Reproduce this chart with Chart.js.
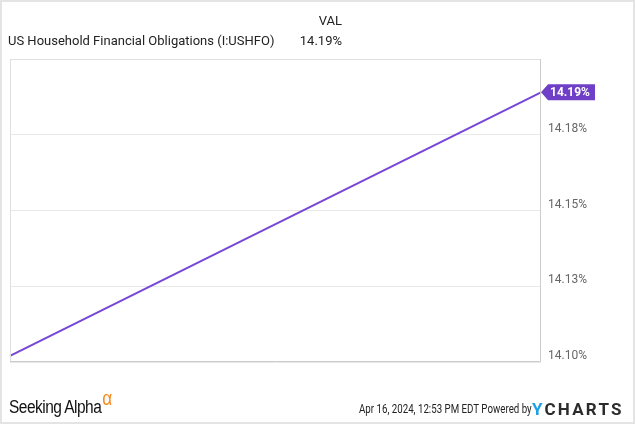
<!DOCTYPE html>
<html>
<head>
<meta charset="utf-8">
<script src="https://cdn.jsdelivr.net/npm/chart.js@4.4.1/dist/chart.umd.min.js"></script>
<style>
  html, body { margin:0; padding:0; background:#fff; }
  #wrap { position:relative; width:635px; height:424px; box-sizing:border-box; border:2px solid #e4e4e4; font-family: Roboto, "Liberation Sans", sans-serif; overflow:hidden; }
  #cv { position:absolute; left:-2px; top:-2px; }
  .t { position:absolute; white-space:nowrap; color:#222; }
</style>
</head>
<body>
<div id="wrap">
  <canvas id="cv" width="635" height="424"></canvas>
  <div class="t" style="left:6px; top:31px; font-size:13px;">US Household Financial Obligations (I:USHFO)</div>
  <div class="t" style="right:291px; top:11px; font-size:13px;">VAL</div>
  <div class="t" style="right:291px; top:31px; font-size:13px;">14.19%</div>
  <div class="t" style="left:7px; top:393px; font-size:18px; font-family:'Liberation Sans', sans-serif; letter-spacing:-0.6px; color:#111; transform-origin:left top; transform:scaleX(0.86);">Seeking Alpha<span style="position:relative; top:-8px; left:1px; color:#f58a1f; font-size:20px;">α</span></div>
  <div class="t" style="left:357px; top:400px; font-size:12px; transform-origin:left top; transform:scaleX(0.81);">Apr 16, 2024, 12:53 PM EDT Powered by</div>
  <div class="t" style="left:530px; top:397px; font-size:17px; font-weight:bold; letter-spacing:2.2px; color:#2b2b2b;"><span style="color:#1ea0e6;">Y</span>CHARTS</div>
</div>
<script>
const categories = ["2023 Q3", "2023 Q4"];
const seriesName = "US Household Financial Obligations (I:USHFO)";
const values = [14.102, 14.189];
const tickValues = [14.10, 14.125, 14.15, 14.175, 14.20];
const tickLabels = ["14.10%", "14.13%", "14.15%", "14.18%", ""];
const latestLabel = "14.19%";

const framePlugin = {
  id: 'frame',
  afterDatasetsDraw(chart) {
    const {ctx, chartArea: a} = chart;
    ctx.save();
    ctx.lineWidth = 1;
    ctx.strokeStyle = '#e0e0e0';
    ctx.beginPath();
    ctx.moveTo(a.left + 0.5, a.bottom); ctx.lineTo(a.left + 0.5, a.top + 0.5); ctx.lineTo(a.right, a.top + 0.5);
    ctx.stroke();
    ctx.strokeStyle = '#cccccc';
    ctx.beginPath();
    ctx.moveTo(a.right - 0.5, a.top); ctx.lineTo(a.right - 0.5, a.bottom - 0.5); ctx.lineTo(a.left, a.bottom - 0.5);
    ctx.stroke();
    const meta = chart.getDatasetMeta(0);
    const p = meta.data[meta.data.length - 1];
    const x = a.right, y = p.y;
    const h = 16, w = 54, tip = 7;
    ctx.fillStyle = '#6f3fc8';
    ctx.beginPath();
    ctx.moveTo(x, y);
    ctx.lineTo(x + tip, y - h / 2);
    ctx.lineTo(x + w, y - h / 2);
    ctx.lineTo(x + w, y + h / 2);
    ctx.lineTo(x + tip, y + h / 2);
    ctx.closePath();
    ctx.fill();
    ctx.fillStyle = '#fff';
    ctx.font = 'bold 12px Roboto';
    ctx.textBaseline = 'middle';
    ctx.textAlign = 'left';
    ctx.fillText(latestLabel, x + tip + 2, y + 1);
    ctx.restore();
  }
};

new Chart(document.getElementById('cv'), {
  type: 'line',
  data: {
    labels: categories,
    datasets: [{
      label: seriesName,
      data: values,
      borderColor: '#7646d8',
      borderWidth: 2,
      pointRadius: 0,
      tension: 0,
      fill: false
    }]
  },
  options: {
    responsive: false,
    animation: false,
    layout: { padding: { left: 10, top: 59, bottom: 62, right: 0 } },
    plugins: { legend: { display: false }, tooltip: { enabled: false } },
    scales: {
      x: { display: false, offset: false },
      y: {
        position: 'right',
        min: 14.10,
        max: 14.20,
        afterBuildTicks(scale) { scale.ticks = tickValues.map(v => ({ value: v })); },
        afterFit(scale) { scale.width = 94; },
        grid: { color: '#e8e8e8', drawTicks: false, lineWidth: 1 },
        border: { display: false },
        ticks: {
          padding: 7,
          labelOffset: -6,
          color: '#666',
          font: { family: 'Roboto', size: 12 },
          callback: (v, i) => tickLabels[tickValues.indexOf(v)] ?? ''
        }
      }
    }
  },
  plugins: [framePlugin]
});
</script>
</body>
</html>
